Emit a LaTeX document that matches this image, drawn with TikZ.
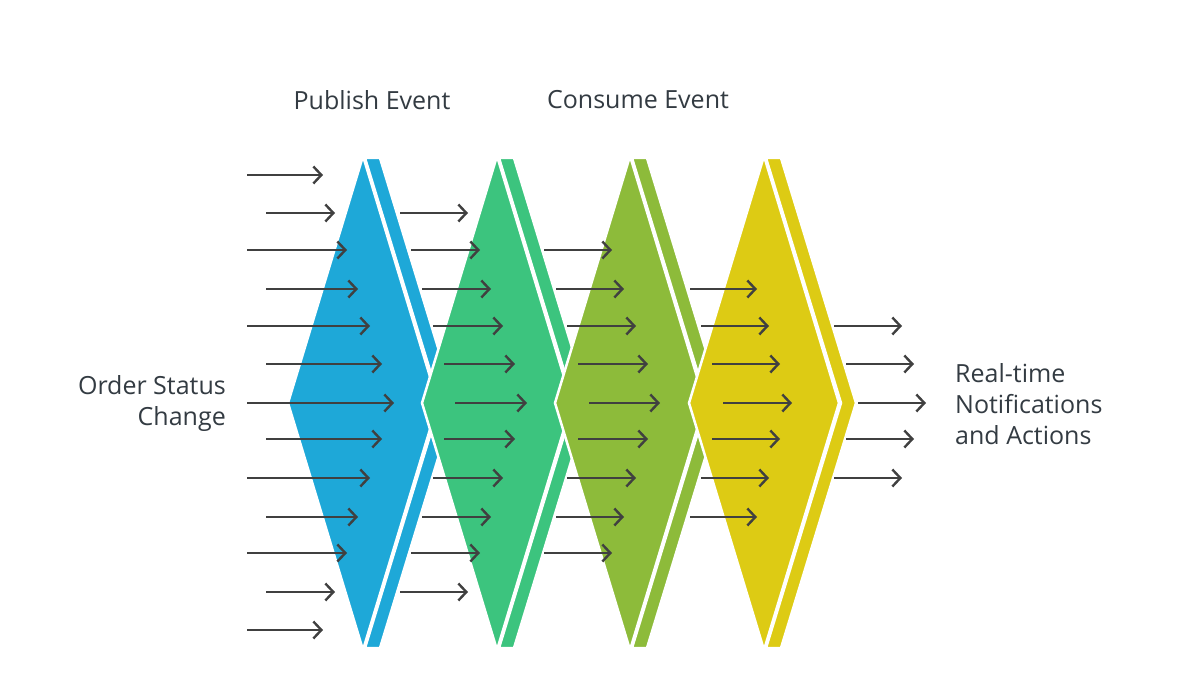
\documentclass[tikz,border=0pt]{standalone}
\usepackage{fontspec}
\setmainfont{Open Sans}
\usetikzlibrary{arrows.meta}
\definecolor{cblue}{HTML}{1EA8D8}
\definecolor{cgreen}{HTML}{3CC47E}
\definecolor{colive}{HTML}{8DBB3A}
\definecolor{cyellow}{HTML}{DDCB14}
\definecolor{ctext}{HTML}{333B42}
\definecolor{carrow}{HTML}{404040}
\tikzset{
  flow/.style={draw=carrow,line width=2.4pt,-{Straight Barb[length=8pt,width=17pt,line width=2.4pt]}},
  lbl/.style={font=\fontsize{25}{31}\selectfont,text=ctext,inner sep=0pt}
}
\newcommand{\chev}[2]{%
  \fill[#2,draw=white,line width=2.5pt] (#1+2,158)--(#1+17,158)--(#1+92,403)--(#1+17,648)--(#1+2,648)--(#1+77,403)--cycle;
  \fill[#2,draw=white,line width=2.5pt] (#1,156)--(#1+75,403)--(#1,650)--(#1-75,403)--cycle;
}
\begin{document}
\begin{tikzpicture}[x=1pt,y=-1pt]
\useasboundingbox (0,0) rectangle (1200,674);
\fill[white] (0,0) rectangle (1200,674);
% left arrows
\foreach \y/\s/\e [count=\i] in {175/247/323,213/266/335,250/247/347,289/266/358,326/247/370,364/266/382,403/247/394,439/266/382,478/247/370,517/266/358,553/247/347,592/266/335,630/247/323}
  {\coordinate (a\i) at (\s,\y); \coordinate (b\i) at (\e,\y);}
\chev{363}{cblue}
\foreach \i in {1,...,13} \draw[flow] (a\i)--(b\i);
\foreach \y/\s/\e [count=\i] in {213/400/468,250/411/480,289/422/491,326/433/503,364/444/515,403/455/527,439/444/515,478/433/503,517/422/491,553/411/480,592/400/468}
  {\coordinate (c\i) at (\s,\y); \coordinate (d\i) at (\e,\y);}
\chev{497}{cgreen}
\foreach \i in {1,...,11} \draw[flow] (c\i)--(d\i);
\foreach \y/\s/\e [count=\i] in {250/544/612,289/556/624,326/567/636,364/578/648,403/589/660,439/578/648,478/567/636,517/556/624,553/544/612}
  {\coordinate (e\i) at (\s,\y); \coordinate (f\i) at (\e,\y);}
\chev{630}{colive}
\foreach \i in {1,...,9} \draw[flow] (e\i)--(f\i);
\foreach \y/\s/\e [count=\i] in {289/690/757,326/701/769,364/712/780,403/723/792,439/712/780,478/701/769,517/690/757}
  {\coordinate (g\i) at (\s,\y); \coordinate (h\i) at (\e,\y);}
\chev{764}{cyellow}
\foreach \i in {1,...,7} \draw[flow] (g\i)--(h\i);
\foreach \y/\s/\e [count=\i] in {326/834/902,364/846/914,403/858/926,439/846/914,478/834/902}
  {\coordinate (k\i) at (\s,\y); \coordinate (m\i) at (\e,\y);}
\foreach \i in {1,...,5} \draw[flow] (k\i)--(m\i);
\node[lbl] (pub) at (372,100) {Publish Event};
\node[lbl] (con) at (638,100) {Consume Event};
\node[lbl,anchor=east,align=right] (src) at (226,404) {Order Status\\Change};
\node[lbl,anchor=west,align=left] (dst) at (955,404) {Real-time\\Notifications\\and Actions};
\end{tikzpicture}
\end{document}
